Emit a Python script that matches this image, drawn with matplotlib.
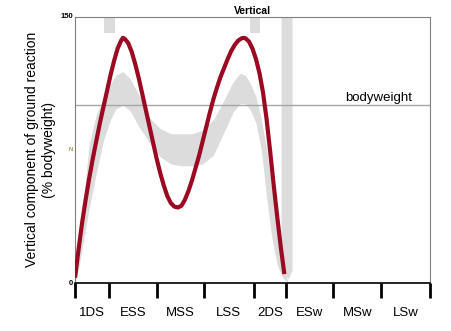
import numpy as np
import matplotlib
matplotlib.use("Agg")
import matplotlib.pyplot as plt

# gait phases (% of gait cycle)
phase_edges = [0, 9.7, 23.0, 36.4, 50.3, 59.5, 72.8, 86.3, 100]
phase_names = ["1DS", "ESS", "MSS", "LSS", "2DS", "ESw", "MSw", "LSw"]

# vertical ground reaction force of the subject (% bodyweight)
grf_x = [0, 1, 2, 3, 4, 5, 6, 7, 8, 9, 10, 11, 12, 13, 13.5, 14, 15, 16, 17, 18,
         19, 20, 21, 22, 23, 24, 25, 26, 27, 28, 29, 30, 31, 32, 33, 34, 35, 36,
         37, 38, 39, 40, 41, 42, 43, 44, 45, 46, 47, 47.5, 48, 49, 50, 51, 52,
         53, 54, 55, 56, 57, 58, 59]
grf_y = [3, 19, 34, 47, 59, 70, 80, 90, 99, 108, 117, 125, 132, 136.5, 138, 137.5,
         135, 130, 123, 115, 106, 97, 88, 79, 70, 62, 55, 49, 45, 43, 42.5, 43.5,
         47, 52, 58, 65, 72, 80, 88, 96, 103.5, 110, 116, 121, 126, 130.5, 134,
         136.5, 137.8, 138, 137.8, 136, 132, 126, 118, 107, 92, 74, 55, 37, 20, 5]

# normal range band
band_x = [0, 1, 2.5, 4, 6, 8, 10, 11.5, 13.5, 15.5, 18, 21, 24, 27, 30, 33, 36,
          39, 42, 44.5, 46.5, 48, 49.5, 51, 52.5, 54, 55.5, 57, 58.5, 60]
band_hi = [0, 25, 50, 78, 95, 104, 112, 117, 119, 115, 106, 93, 87, 84, 84, 84,
           86, 92, 103, 113, 118, 117, 112, 105, 92, 76, 52, 30, 12, 0]
band_lo = [0, 8, 25, 42, 62, 80, 92, 98, 100, 97, 88, 79, 71, 67, 66, 66, 67,
           72, 85, 96, 101, 101, 97, 90, 75, 48, 25, 10, 3, 0]

# timing of events (normal range)
event_start = [8.2, 49.2, 58.2]
event_end = [11.3, 52.0, 61.3]
event_bottom = [141, 141, 7]

bodyweight = 100

plt.rcParams['font.family'] = ['Liberation Sans', 'DejaVu Sans']

fig = plt.figure(figsize=(4.52, 3.31), dpi=100)
ax = fig.add_axes([0.166, 0.145, 0.785, 0.805])

grey = "#dcdcdc"
ax.fill_between(band_x, band_lo, band_hi, color=grey, lw=0, zorder=1)
for s, e, b in zip(event_start, event_end, event_bottom):
    if b < 20:
        m = (s + e) / 2
        ax.fill([s, e, e, m + 0.5, s], [150, 150, b, b - 5, b], color=grey, lw=0, zorder=1)
    else:
        ax.fill([s, e, e, s], [150, 150, b, b], color=grey, lw=0, zorder=1)

ax.axhline(bodyweight, color="#a6a6a6", lw=1, zorder=2)
ax.text(95, bodyweight + 0.8, "bodyweight", ha="right", va="bottom", fontsize=9.5)

ax.plot(grf_x, grf_y, color="#9b0a23", lw=3, solid_capstyle="butt",
        solid_joinstyle="round", zorder=3)

ax.set_xlim(0, 100)
ax.set_ylim(0, 150)

ax.set_xticks(phase_edges)
ax.set_xticklabels([])
ax.tick_params(axis="x", which="major", length=11, width=2, color="black",
               direction="out")
mids = [(a + b) / 2 for a, b in zip(phase_edges[:-1], phase_edges[1:])]
ax.set_xticks(mids, minor=True)
ax.set_xticklabels(phase_names, minor=True, fontsize=9.5)
ax.tick_params(axis="x", which="minor", length=0, pad=17)

ax.set_yticks([])
ax.text(-0.5, 150, "150", ha="right", va="center", fontsize=5.5, fontweight="bold")
ax.text(-0.5, 0, "0", ha="right", va="center", fontsize=5.5, fontweight="bold")
ax.text(-0.8, 75, "N", ha="right", va="center", fontsize=4, color="#7f6000")

for side in ["left", "top", "right"]:
    ax.spines[side].set_color("#808080")
ax.spines["bottom"].set_color("black")
ax.spines["bottom"].set_linewidth(1.2)

ax.set_ylabel("Vertical component of ground reaction\n(% bodyweight)", fontsize=10,
              labelpad=14)
ax.set_title("Vertical", fontsize=7.5, fontweight="bold", pad=2)

fig.savefig("out.png", dpi=100)
